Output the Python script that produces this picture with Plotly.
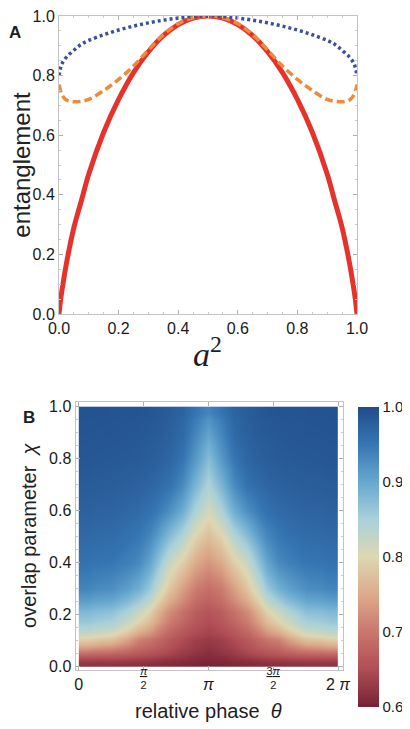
import numpy as np
import plotly.graph_objects as go

# --- panel A: entanglement vs a^2 ---
a_sq = [0.0, 0.005, 0.01, 0.025, 0.05, 0.075, 0.1, 0.15, 0.2, 0.25, 0.3, 0.35, 0.4, 0.45, 0.5,
        0.55, 0.6, 0.65, 0.7, 0.75, 0.8, 0.85, 0.9, 0.925, 0.95, 0.975, 0.99, 0.995, 1.0]
ent_solid = [0.0, 0.045, 0.08, 0.17, 0.29, 0.38, 0.47, 0.61, 0.72, 0.81, 0.88, 0.934, 0.971, 0.993, 1.0,
             0.993, 0.971, 0.934, 0.88, 0.81, 0.72, 0.61, 0.47, 0.38, 0.29, 0.17, 0.08, 0.045, 0.0]
ent_dotted = [0.80, 0.825, 0.84, 0.862, 0.885, 0.905, 0.918, 0.937, 0.953, 0.966, 0.977, 0.986, 0.993, 0.998, 1.0,
              0.998, 0.993, 0.986, 0.977, 0.966, 0.953, 0.937, 0.918, 0.905, 0.885, 0.862, 0.84, 0.825, 0.80]
ent_dashed = [0.77, 0.75, 0.735, 0.718, 0.712, 0.714, 0.72, 0.75, 0.787, 0.832, 0.886, 0.937, 0.974, 0.994, 1.0,
              0.994, 0.974, 0.937, 0.886, 0.832, 0.787, 0.75, 0.72, 0.714, 0.712, 0.718, 0.735, 0.75, 0.77]

# --- panel B: entanglement over (theta, chi) ---
theta_pi = [0.0, 0.25, 0.5, 0.6, 0.7, 0.8, 0.9, 1.0, 1.1, 1.2, 1.3, 1.4, 1.5, 1.75, 2.0]   # theta / pi
chi = [0.0, 0.02, 0.05, 0.075, 0.1, 0.15, 0.2, 0.3, 0.4, 0.5, 0.6, 0.7, 0.8, 0.9, 1.0]
# one row per chi value, columns theta/pi = 0, .25, .5, .6, .7, .8, .9, 1 (mirrored beyond pi)
half_rows = [
    [0.610, 0.610, 0.610, 0.607, 0.605, 0.602, 0.600, 0.600],
    [0.630, 0.630, 0.625, 0.620, 0.615, 0.612, 0.608, 0.605],
    [0.680, 0.675, 0.660, 0.650, 0.640, 0.630, 0.620, 0.615],
    [0.740, 0.725, 0.685, 0.670, 0.655, 0.640, 0.630, 0.622],
    [0.790, 0.775, 0.710, 0.685, 0.665, 0.650, 0.635, 0.630],
    [0.845, 0.830, 0.770, 0.725, 0.690, 0.670, 0.655, 0.645],
    [0.880, 0.870, 0.820, 0.765, 0.720, 0.695, 0.670, 0.660],
    [0.935, 0.925, 0.890, 0.830, 0.780, 0.740, 0.705, 0.690],
    [0.955, 0.950, 0.930, 0.875, 0.820, 0.790, 0.750, 0.730],
    [0.965, 0.962, 0.948, 0.915, 0.875, 0.840, 0.795, 0.770],
    [0.975, 0.972, 0.963, 0.948, 0.925, 0.895, 0.845, 0.810],
    [0.982, 0.980, 0.975, 0.965, 0.955, 0.930, 0.885, 0.845],
    [0.987, 0.985, 0.982, 0.977, 0.970, 0.952, 0.915, 0.875],
    [0.990, 0.989, 0.986, 0.982, 0.976, 0.965, 0.935, 0.905],
    [0.992, 0.991, 0.990, 0.986, 0.980, 0.972, 0.952, 0.935],
]
density_ticks = [0.6, 0.7, 0.8, 0.9, 1.0]
unit_ticks = [0.0, 0.2, 0.4, 0.6, 0.8, 1.0]
phase_whole_pi = [0, 1, 2]          # labelled 0, pi, 2 pi
phase_half_pi = [0.5, 1.5]          # labelled pi/2, 3pi/2

COLORS = {"solid": "#e5332b", "dotted": "#3b4f9e", "dashed": "#ee8a3b"}
RED_BLUE = [
    [0.0, "#762234"], [0.125, "#b04d55"], [0.25, "#ca776d"], [0.375, "#dcab8b"],
    [0.5, "#ded7b2"], [0.625, "#a9d1da"], [0.75, "#67a8d0"], [0.875, "#3676b3"],
    [1.0, "#214c8a"],
]
FONT = "Liberation Sans"
FRAME = "#c4c4c4"
INK = "#1a1a1a"

# the page body keeps its default 8px margin, so the figure is laid out in
# window pixels minus that offset
PAGE_PAD = 8
W, H = 410 - PAGE_PAD, 729 - PAGE_PAD


def fx(px):
    return (px - PAGE_PAD) / W


def fy(py):
    return 1 - (py - PAGE_PAD) / H


z = [row + row[-2::-1] for row in half_rows]
theta = np.array(theta_pi) * np.pi
# brick edges so the density plot fills exactly [0, 2pi] x [0, 1]
theta_edges = np.concatenate([[0.0], (theta[1:] + theta[:-1]) / 2, [2 * np.pi]])
chi_arr = np.array(chi)
chi_edges = np.concatenate([[0.0], (chi_arr[1:] + chi_arr[:-1]) / 2, [1.0]])

fig = go.Figure()
fig.add_scatter(x=a_sq, y=ent_solid, mode="lines", line=dict(color=COLORS["solid"], width=5, shape="spline"),
                xaxis="x", yaxis="y", showlegend=False)
fig.add_scatter(x=a_sq, y=ent_dashed, mode="lines",
                line=dict(color=COLORS["dashed"], width=3.5, dash="8px,4px", shape="spline"),
                xaxis="x", yaxis="y", showlegend=False)
fig.add_scatter(x=a_sq, y=ent_dotted, mode="lines",
                line=dict(color=COLORS["dotted"], width=3.5, dash="3px,3px", shape="spline"),
                xaxis="x", yaxis="y", showlegend=False)

fig.add_heatmap(
    x=theta_edges, y=chi_edges, z=z, zmin=0.6, zmax=1.0, zsmooth="best",
    colorscale=RED_BLUE, xaxis="x2", yaxis="y2",
    colorbar=dict(x=fx(358), xanchor="left", y=fy(557), yanchor="middle",
                  len=300 / H, lenmode="fraction", thickness=21, xpad=0, ypad=0,
                  outlinewidth=0, tickvals=density_ticks,
                  ticktext=[f"{v:.1f}" for v in density_ticks],
                  tickfont=dict(family=FONT, size=15, color=INK), ticklen=0),
)
# empty trace so the overlaid half-pi tick axis gets drawn
fig.add_scatter(x=[], y=[], xaxis="x3", yaxis="y2", showlegend=False, hoverinfo="skip")

axis_common = dict(showgrid=False, zeroline=False, showline=True, linecolor=FRAME, linewidth=1,
                   mirror="ticks", ticks="inside", ticklen=4, tickcolor="#b0b0b0", automargin=False,
                   ticklabeloverflow="allow", tickfont=dict(family=FONT, size=16, color=INK))
minor = dict(ticks="inside", ticklen=2, dtick=0.05, tickcolor="#cccccc")
unit_text = [f"{v:.1f}" for v in unit_ticks]
phase_range = [-0.08, 2 * np.pi + 0.12]


def label(text, x, y, size, family=FONT):
    return dict(text=text, x=fx(x), y=fy(y), xref="paper", yref="paper",
                xanchor="center", yanchor="middle", showarrow=False,
                font=dict(family=family, size=size, color="#1e1e1e"))


fig.update_layout(
    width=W, height=H, margin=dict(l=0, r=0, t=0, b=0, autoexpand=False),
    paper_bgcolor="white", plot_bgcolor="white",
    xaxis=dict(axis_common, domain=[fx(59), fx(357)], anchor="y", range=[0, 1],
               tickvals=unit_ticks, ticktext=unit_text, minor=minor),
    yaxis=dict(axis_common, domain=[fy(314), fy(16)], anchor="x", range=[0, 1],
               tickvals=unit_ticks, ticktext=unit_text, minor=minor,
               title=dict(text="entanglement", standoff=6,
                          font=dict(family=FONT, size=24, color="#222"))),
    xaxis2=dict(axis_common, domain=[fx(75.5), fx(343)], anchor="y2", range=phase_range,
                tickvals=[v * np.pi for v in phase_whole_pi],
                ticktext=["0", "<i>π</i>", "2 <i>π</i>"], ticklabelstandoff=0),
    xaxis3=dict(axis_common, overlaying="x2", anchor="y2", range=phase_range, showline=False,
                tickvals=[v * np.pi for v in phase_half_pi],
                ticktext=["<u><i>π</i></u><br>2", "<u>3<i>π</i></u><br>2"],
                tickfont=dict(family=FONT, size=11, color=INK), ticklabelstandoff=-7),
    yaxis2=dict(axis_common, domain=[fy(670), fy(401.5)], anchor="x2", range=[-0.012, 1.02],
                tickvals=unit_ticks, ticktext=unit_text, minor=minor,
                title=dict(text="overlap parameter  <i>χ</i>", standoff=7,
                           font=dict(family=FONT, size=20, color="#222"))),
    annotations=[
        label("<b>A</b>", 15.5, 32.5, 17),
        label("<b>B</b>", 28.5, 417.5, 17),
        label("<i>a</i><sup>2</sup>", 207, 352, 34, "Liberation Serif"),
        label("relative phase  <i>θ</i>", 208, 711, 20),
    ],
)

fig.write_html("out.html")
